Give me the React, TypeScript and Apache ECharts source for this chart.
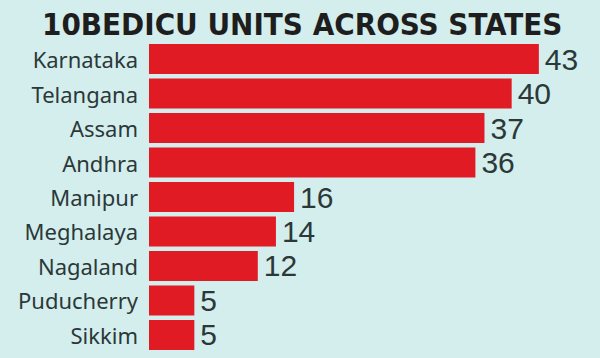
import React, { useEffect, useRef } from "react";
import * as echarts from "echarts";

const titleText = "10BEDICU UNITS ACROSS STATES";
const states = ["Karnataka", "Telangana", "Assam", "Andhra", "Manipur", "Meghalaya", "Nagaland", "Puducherry", "Sikkim"];
const units = [43, 40, 37, 36, 16, 14, 12, 5, 5];

export default function App() {
  const ref = useRef<HTMLDivElement>(null);
  useEffect(() => {
    if (!ref.current) return;
    const chart = echarts.init(ref.current, null, { renderer: "svg" });
    chart.setOption({
      animation: false,
      backgroundColor: "#d4eded",
      title: {
        text: titleText,
        left: 37,
        top: 3,
        textStyle: {
          fontFamily: "DejaVu Sans Condensed",
          fontWeight: "bold",
          fontSize: 31,
          color: "#1e1e1e",
        },
      },
      grid: { left: 149, right: 43, top: 41.8, bottom: 5.8, containLabel: false },
      xAxis: {
        type: "value",
        min: 0,
        max: 45,
        show: false,
      },
      yAxis: {
        type: "category",
        data: states,
        inverse: true,
        axisLine: { show: false },
        axisTick: { show: false },
        axisLabel: {
          margin: 11,
          fontFamily: "Noto Sans",
          fontSize: 22,
          color: "#2b3838",
        },
      },
      series: [
        {
          type: "bar",
          data: units,
          barCategoryGap: "13%",
          itemStyle: { color: "#e01b24" },
          label: {
            show: true,
            position: "right",
            distance: 6,
            fontFamily: "Liberation Sans",
            fontSize: 30,
            lineHeight: 30,
            color: "#2b3838",
          },
        },
      ],
    });
    return () => chart.dispose();
  }, []);
  return <div ref={ref} style={{ width: 600, height: 358, position: "absolute", left: 0, top: 0 }} />;
}
